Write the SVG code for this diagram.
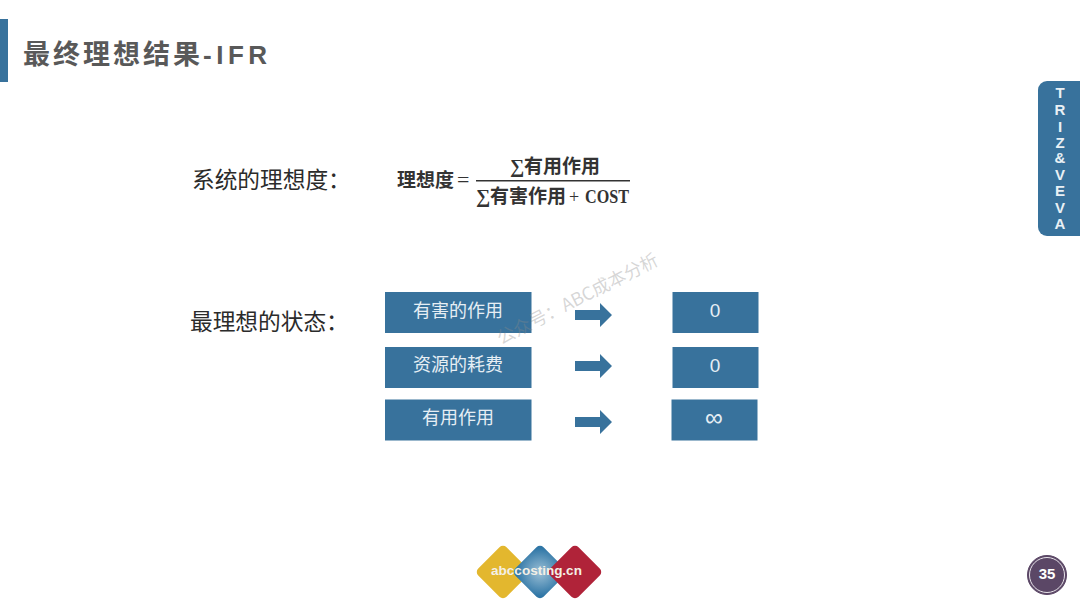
<svg xmlns="http://www.w3.org/2000/svg" width="1080" height="608" viewBox="0 0 1080 608">
<style>
.cjk{font-family:"Noto Sans CJK SC","Liberation Sans",sans-serif}
.box{fill:#38729c}
.bt{font-family:"Noto Sans CJK SC","Liberation Sans",sans-serif;font-size:18px;fill:#e6eef4;text-anchor:middle}
.num{font-family:"Liberation Sans",sans-serif;font-size:19px;fill:#e6eef4;text-anchor:middle}
.lbl{font-family:"Noto Sans CJK SC",sans-serif;font-size:22.700px;fill:#2b2b2b}
.f{font-family:"Noto Sans CJK SC",sans-serif;font-size:19px;font-weight:700;fill:#333}
.s{font-family:"Liberation Serif",serif;font-size:20px;font-weight:700;fill:#333}
.tab{font-family:"Liberation Sans",sans-serif;font-size:15px;font-weight:700;fill:#e8f0f5;text-anchor:middle}
</style>
<defs>
<radialGradient id="gb" cx="0.5" cy="0.5" r="0.6"><stop offset="0" stop-color="#9cc0d6"/><stop offset="1" stop-color="#2f76a6"/></radialGradient>
<path id="ar" d="M0-5H25V-12L37 0 25 12V5H0Z" fill="#38729c"/>
</defs>
<rect width="1080" height="608" fill="#fff"/>
<g id="title">
<rect x="0" y="19" width="8" height="63" fill="#38729c"/>
<text x="23" y="64" class="cjk" font-size="27" font-weight="700" fill="#595959" letter-spacing="3">最终理想结果<tspan font-size="26" letter-spacing="4.500" font-family="Liberation Sans,sans-serif">-IFR</tspan></text>
</g>
<g id="tab">
<rect x="1038" y="81" width="60" height="155" rx="9" fill="#38729c"/>
<text class="tab" x="1060" y="98">T</text><text class="tab" x="1060" y="115">R</text><text class="tab" x="1060" y="132">I</text><text class="tab" x="1060" y="148">Z</text><text class="tab" x="1060" y="163">&amp;</text><text class="tab" x="1060" y="180">V</text><text class="tab" x="1060" y="196">E</text><text class="tab" x="1060" y="213">V</text><text class="tab" x="1060" y="229">A</text>
</g>
<g id="label-ideality"><text class="lbl" x="192" y="188">系统的理想度：</text></g>
<g id="formula">
<text class="f" x="397" y="187" style="font-size:19px">理想度</text><text class="s" x="457" y="187" style="font-size:22px;font-weight:400">=</text>
<text class="s" x="510" y="173">∑</text><text class="f" x="524" y="173">有用作用</text>
<rect x="476" y="180" width="154" height="1.500" fill="#333"/>
<text class="s" x="476" y="203">∑</text><text class="f" x="490" y="203">有害作用</text><text class="s" x="569" y="203" style="font-size:18px;font-weight:400">+</text><text class="s" x="585" y="203" style="font-size:18.500px" textLength="44" lengthAdjust="spacingAndGlyphs">COST</text>
</g>
<g id="label-state"><text class="lbl" x="190" y="330">最理想的状态：</text></g>
<g id="n1"><rect class="box" x="385" y="292" width="146.500" height="41"/><text class="bt" x="458" y="317">有害的作用</text></g>
<g id="n2"><rect class="box" x="385" y="347" width="146.500" height="41"/><text class="bt" x="458" y="371">资源的耗费</text></g>
<g id="n3"><rect class="box" x="385" y="399.500" width="146.500" height="41"/><text class="bt" x="458" y="424">有用作用</text></g>
<g id="r1"><rect class="box" x="672.500" y="292" width="86" height="41"/><text class="num" x="715" y="317">0</text></g>
<g id="r2"><rect class="box" x="672.500" y="347" width="86" height="41"/><text class="num" x="715" y="372">0</text></g>
<g id="r3"><rect class="box" x="671.500" y="399.500" width="86" height="41"/><text class="num" x="714" y="426" style="font-size:25px">∞</text></g>
<g id="connectors">
<use href="#ar" x="575" y="315"/><use href="#ar" x="575" y="366"/><use href="#ar" x="575" y="422"/>
</g>
<g id="watermark"><text class="cjk" transform="translate(501 345) rotate(-27)" font-size="18" fill="#8a8a8a" fill-opacity=".35">公众号：ABC成本分析</text></g>
<g id="logo">
<rect x="483" y="552" width="40" height="40" rx="5" transform="rotate(45 503 572)" fill="#e3b72e"/>
<rect x="520" y="552" width="40" height="40" rx="5" transform="rotate(45 540 572)" fill="url(#gb)"/>
<rect x="555" y="552" width="40" height="40" rx="5" transform="rotate(45 575 572)" fill="#b02339"/>
<text x="536.500" y="575" font-family="Liberation Sans,sans-serif" font-size="13.500" font-weight="700" fill="#f4f0e6" text-anchor="middle">abccosting.cn</text>
</g>
<g id="page">
<circle cx="1047" cy="575" r="19.500" fill="#5b4766" stroke="#5b4766"/>
<circle cx="1047" cy="575" r="17.500" fill="none" stroke="#e8e4ea" stroke-width="1"/>
<text x="1047" y="579" font-family="Liberation Sans,sans-serif" font-size="15" font-weight="700" fill="#fff" text-anchor="middle">35</text>
</g>
</svg>
